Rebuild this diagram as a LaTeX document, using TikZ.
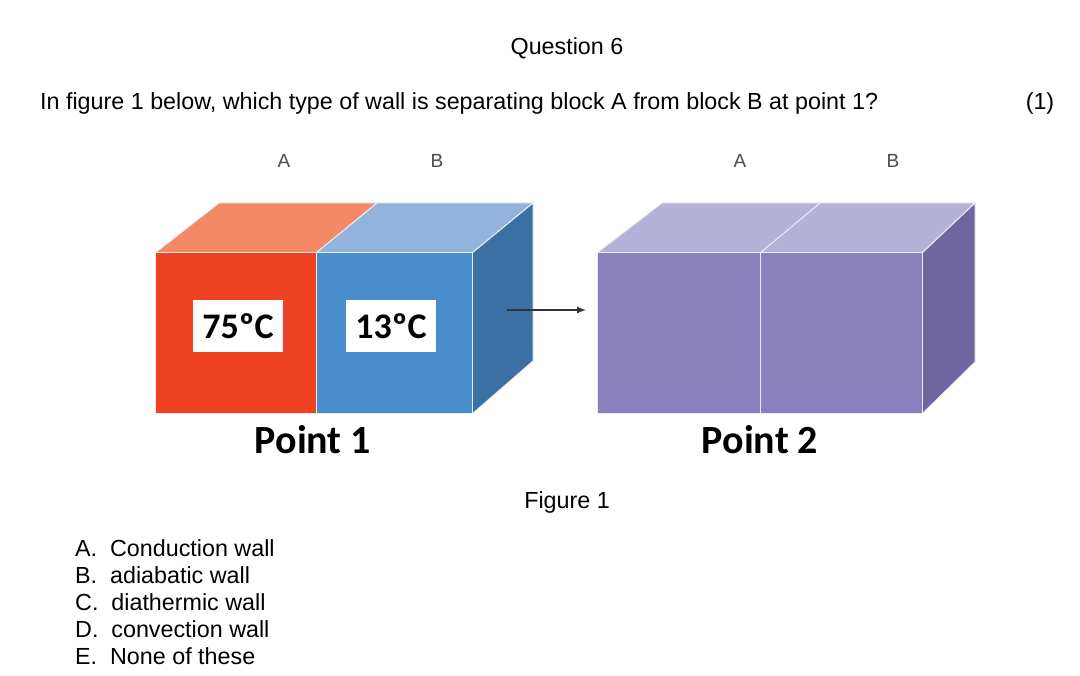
\documentclass[tikz,border=0pt]{standalone}
\usepackage{fontspec}
\setmainfont{Liberation Sans}
\newfontfamily\calfont{Carlito}
\begin{document}
\begin{tikzpicture}[x=1pt,y=-1pt,
  txt/.style={inner sep=0pt,font=\fontsize{23.3}{26}\selectfont},
  small/.style={inner sep=0pt,font=\fontsize{19}{21}\selectfont,text=black!70},
  tbox/.style={fill=white,minimum width=90,minimum height=52,inner sep=0pt,font=\calfont\bfseries\fontsize{36}{38}\selectfont},
  pt/.style={inner sep=0pt,font=\calfont\bfseries\fontsize{40}{42}\selectfont},
  edge/.style={draw=white!85!gray,line width=1pt}]
\clip (0,0) rectangle (1080,676);
\fill[white] (0,0) rectangle (1080,676);
\node[txt] (q) at (567,48) {Question 6};
\node[txt,anchor=west] (qt) at (40,103) {In figure 1 below, which type of wall is separating block A from block B at point 1?};
\node[txt] (m) at (1040,103) {(1)};
% left block
\fill[edge,fill={rgb,255:red,243;green,137;blue,102}] (155,253) -- (219,203) -- (377,203) -- (316,253) -- cycle;
\fill[edge,fill={rgb,255:red,146;green,179;blue,220}] (316,253) -- (377,203) -- (533,203) -- (472,253) -- cycle;
\fill[edge,fill={rgb,255:red,59;green,112;blue,164}] (472,253) -- (533,203) -- (533,361) -- (472,414) -- cycle;
\fill[edge,fill={rgb,255:red,238;green,66;blue,35}] (155,253) rectangle (316,414);
\fill[edge,fill={rgb,255:red,74;green,141;blue,204}] (316,253) rectangle (472,414);
\node[tbox] (ta) at (238,326) {75ºC};
\node[tbox] (tb) at (391,326) {13ºC};
\node[pt] (p1) at (313,440) {Point 1};
\node[small] (a1) at (284,161) {A};
\node[small] (b1) at (437,161) {B};
% right block
\fill[edge,fill={rgb,255:red,181;green,178;blue,218}] (597,253) -- (662,203) -- (975,203) -- (922,253) -- cycle;
\draw[edge] (760,253) -- (820,203);
\fill[edge,fill={rgb,255:red,111;green,102;blue,160}] (922,253) -- (975,203) -- (975,362) -- (922,414) -- cycle;
\fill[edge,fill={rgb,255:red,138;green,128;blue,189}] (597,253) rectangle (922,414);
\draw[edge] (760,253) -- (760,414);
\node[pt] (p2) at (760,440) {Point 2};
\node[small] (a2) at (740,161) {A};
\node[small] (b2) at (893,161) {B};
\coordinate (s) at (507,310);
\coordinate (e) at (586,310);
\draw[-latex,line width=2pt,black!80] (s) -- (e);
\node[txt] (f) at (567,502) {Figure 1};
\node[txt,anchor=west] (o1) at (75,548) {A.\ \ Conduction wall};
\node[txt,anchor=west] (o2) at (75,575) {B.\ \ adiabatic wall};
\node[txt,anchor=west] (o3) at (75,602) {C.\ \ diathermic wall};
\node[txt,anchor=west] (o4) at (75,629) {D.\ \ convection wall};
\node[txt,anchor=west] (o5) at (75,656) {E.\ \ None of these};
\node[txt] (q7) at (567,690) {Question 7};
\end{tikzpicture}
\end{document}
